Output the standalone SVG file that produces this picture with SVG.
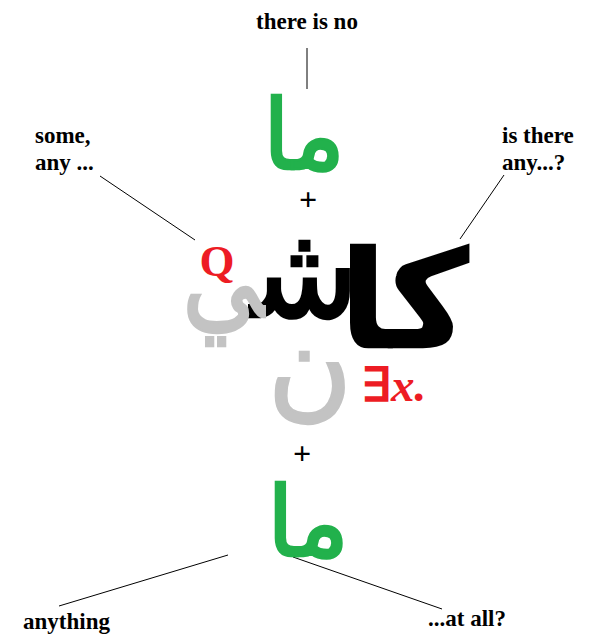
<svg xmlns="http://www.w3.org/2000/svg" width="616" height="642" viewBox="0 0 616 642">
<style>
.lbl{font-family:"Liberation Serif","Times New Roman",serif;font-weight:bold;font-size:23px;fill:#000}
.plus{font-family:"Liberation Serif",serif;font-weight:bold;font-size:32px;fill:#000}
.ar{font-family:"DejaVu Sans",sans-serif}
.bold{font-weight:bold}
.green{fill:#22B14C;stroke:#22B14C;stroke-width:2.5}
.blk{fill:#000;stroke:#000;stroke-width:2.5}
.gry{fill:#C3C3C3;stroke:#C3C3C3;stroke-width:2.5}
.red{fill:#ED1C24;font-family:"Liberation Serif",serif;font-weight:bold}
.ln{stroke:#000;stroke-width:1;fill:none}
</style>
<rect width="616" height="642" fill="#fff"/>
<g id="connectors">
<line class="ln" x1="307" y1="48" x2="307" y2="89"/>
<line class="ln" x1="100" y1="176" x2="195" y2="240"/>
<line class="ln" x1="504" y1="175" x2="460" y2="239"/>
<line class="ln" x1="59" y1="606" x2="228" y2="555"/>
<line class="ln" x1="293" y1="557" x2="442" y2="609"/>
</g>
<g id="label-there-is-no"><text class="lbl" x="307" y="29" text-anchor="middle">there is no</text></g>
<g id="label-some-any"><text class="lbl" x="35" y="143">some,</text><text class="lbl" x="35" y="170">any ...</text></g>
<g id="label-is-there-any"><text class="lbl" x="502" y="143">is there</text><text class="lbl" x="502" y="170">any...?</text></g>
<g id="label-anything"><text class="lbl" x="23" y="629">anything</text></g>
<g id="label-at-all"><text class="lbl" x="428" y="626" font-size="21">...at all?</text></g>
<g id="ma-top"><text class="ar green" x="304" y="169" font-size="98" text-anchor="middle">ما</text></g>
<g id="plus-top"><text class="plus" x="308" y="210" text-anchor="middle">+</text></g>
<g id="kashi">
<text class="ar bold blk" x="404" y="347" font-size="134" text-anchor="middle" stroke-width="0">كا</text>
<text class="ar blk" x="305" y="317" font-size="130" text-anchor="middle">ش&#x200D;</text>
<text class="ar gry" x="0" y="0" font-size="120" text-anchor="middle" transform="translate(223,317) scale(0.82,1)">&#x200D;ي</text>
<text class="ar gry" x="310" y="405" font-size="115" text-anchor="middle">ن</text>
</g>
<g id="q"><text class="red" x="217" y="276" font-size="45" text-anchor="middle">Q</text></g>
<g id="exists"><text class="red" x="361" y="401" font-size="47">∃<tspan font-style="italic">x.</tspan></text></g>
<g id="plus-bottom"><text class="plus" x="302" y="464" text-anchor="middle">+</text></g>
<g id="ma-bottom"><text class="ar green" x="308" y="556" font-size="98" text-anchor="middle">ما</text></g>
</svg>
